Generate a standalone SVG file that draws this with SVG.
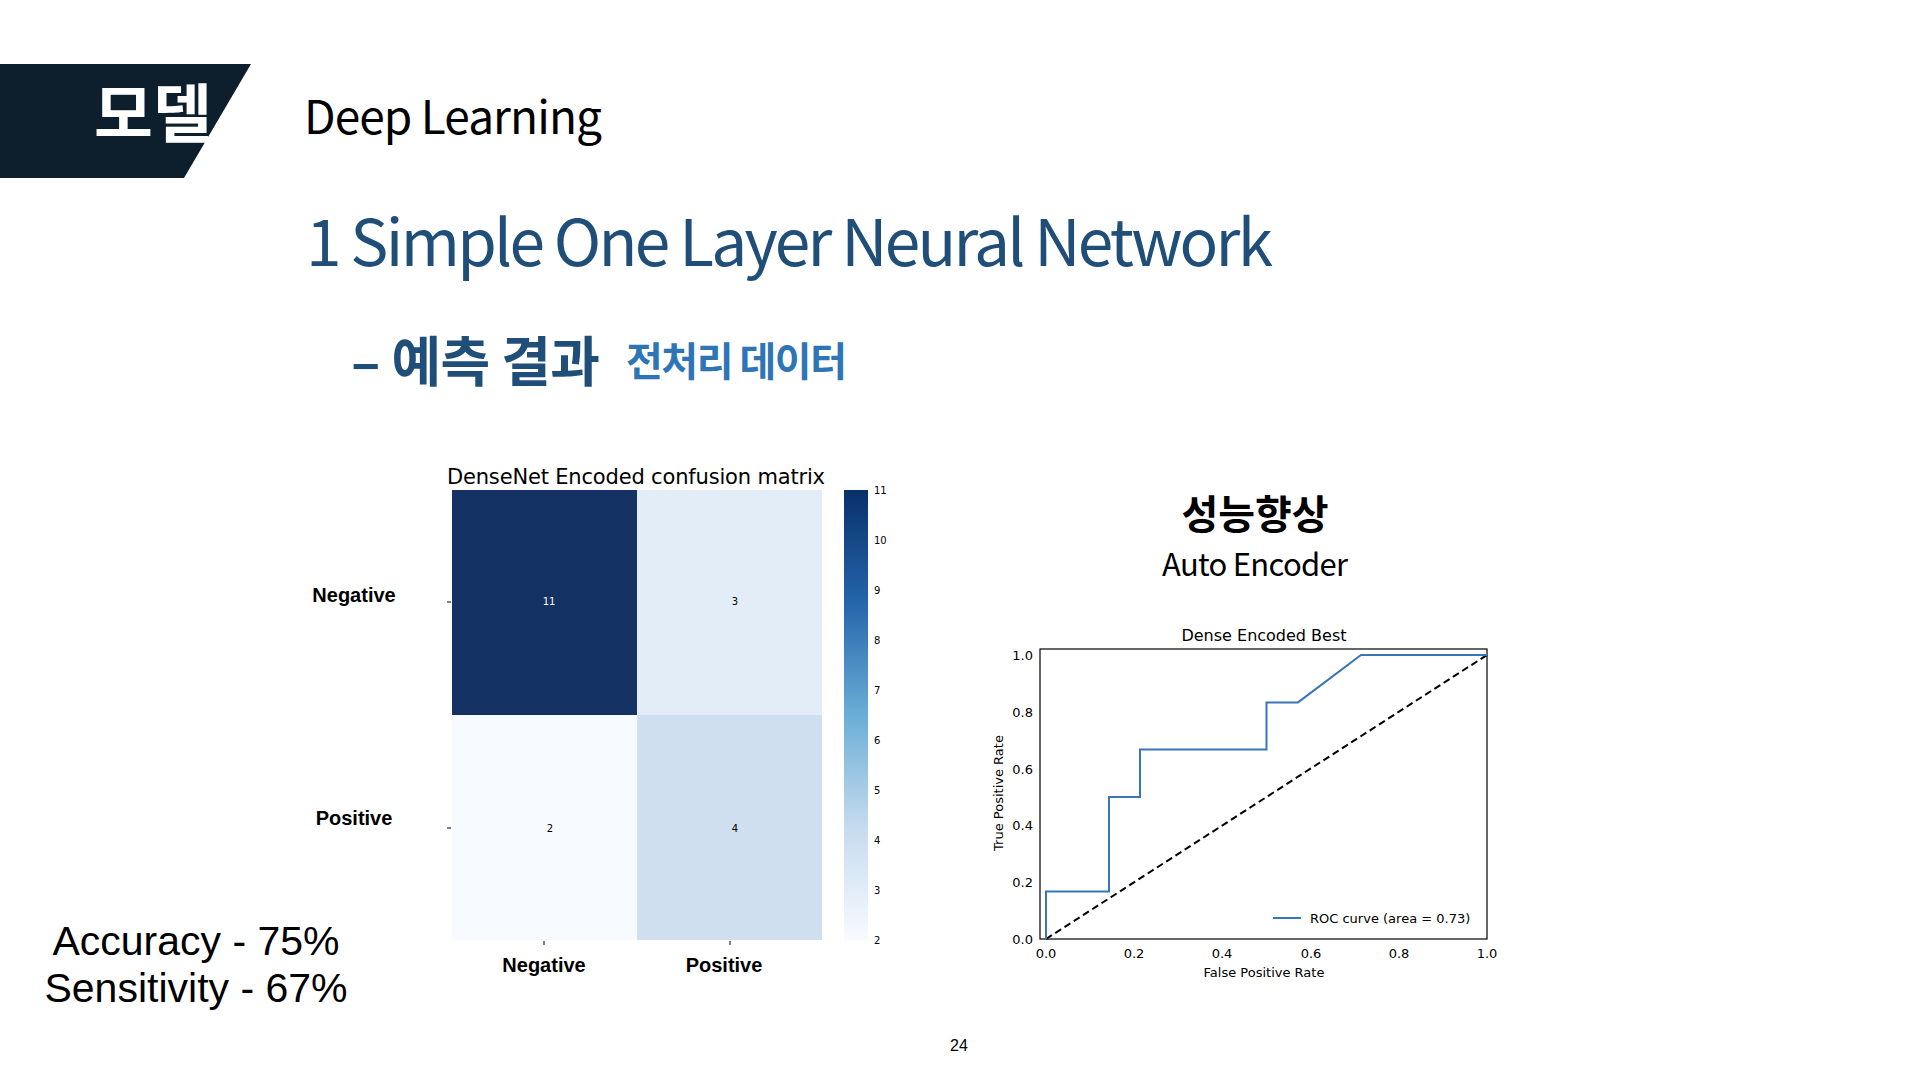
<svg xmlns="http://www.w3.org/2000/svg" width="1920" height="1080" viewBox="0 0 1920 1080">
<style>
.k{font-family:"Noto Sans CJK KR","Noto Sans",sans-serif}
.d{font-family:"DejaVu Sans",sans-serif;fill:#000}
.a{font-family:"Liberation Sans",Arial,sans-serif}
.t{stroke:#000;stroke-width:1}
</style>
<defs>
<linearGradient id="cb" x1="0" y1="0" x2="0" y2="1">
<stop offset="0" stop-color="#08306b"/><stop offset="0.25" stop-color="#2565ab"/><stop offset="0.5" stop-color="#6aaed6"/><stop offset="0.75" stop-color="#c6dbef"/><stop offset="1" stop-color="#f7fbff"/>
</linearGradient>
</defs>
<rect width="1920" height="1080" fill="#fff"/>
<g id="header">
<polygon points="0,64 251,64 184,178 0,178" fill="#0d1f2d"/>
<text x="153" y="137" class="k" font-size="64" font-weight="bold" fill="#fff" text-anchor="middle">모델</text>
<text x="304" y="134" class="k" font-size="46" fill="#000" textLength="298">Deep Learning</text>
<text x="306" y="266" class="k" font-size="64" fill="#1f4e79" textLength="967">1 Simple One Layer Neural Network</text>
<text x="351" y="382" class="k" font-size="54" font-weight="bold" fill="#1f4e79" textLength="249">– 예측 결과</text>
<text x="626" y="376" class="k" font-size="40" font-weight="bold" fill="#2e75b6" textLength="221">전처리 데이터</text>
</g>
<g id="confusion">
<text x="636" y="484" class="d" font-size="21" text-anchor="middle" textLength="378">DenseNet Encoded confusion matrix</text>
<rect x="452" y="490" width="185" height="225" fill="#153264"/>
<rect x="637" y="490" width="185" height="225" fill="#e3edf8"/>
<rect x="452" y="715" width="185" height="225" fill="#f7fbff"/>
<rect x="637" y="715" width="185" height="225" fill="#d0dff0"/>
<g class="d" font-size="10" text-anchor="middle">
<text x="549" y="605" style="fill:#fff">11</text>
<text x="735" y="605">3</text>
<text x="550" y="832">2</text>
<text x="735" y="832">4</text>
</g>
<line x1="447" y1="602" x2="451" y2="602" class="t"/>
<line x1="447" y1="828" x2="451" y2="828" class="t"/>
<line x1="544" y1="941" x2="544" y2="945" class="t"/>
<line x1="730" y1="941" x2="730" y2="945" class="t"/>
<g class="a" font-size="20" font-weight="bold" text-anchor="middle">
<text x="354" y="602">Negative</text>
<text x="354" y="825">Positive</text>
<text x="544" y="972">Negative</text>
<text x="724" y="972">Positive</text>
</g>
<rect x="844" y="490" width="24" height="450" fill="url(#cb)"/>
<g class="d" font-size="10">
<text x="874" y="494">11</text><text x="874" y="544">10</text><text x="874" y="594">9</text><text x="874" y="644">8</text><text x="874" y="694">7</text><text x="874" y="744">6</text><text x="874" y="794">5</text><text x="874" y="844">4</text><text x="874" y="894">3</text><text x="874" y="944">2</text>
</g>
</g>
<g id="roc">
<text x="1255" y="529" class="k" font-size="40" font-weight="bold" text-anchor="middle">성능향상</text>
<text x="1255" y="576" class="k" font-size="31" text-anchor="middle" textLength="186">Auto Encoder</text>
<text x="1264" y="641" class="d" font-size="16" text-anchor="middle">Dense Encoded Best</text>
<rect x="1040" y="649" width="447" height="290" fill="none" stroke="#000" stroke-width="1.2"/>
<line x1="1046" y1="939" x2="1487" y2="655" stroke="#000" stroke-width="2" stroke-dasharray="7,4"/>
<polyline points="1046,939 1046,891.6 1109,891.6 1109,797 1140,797 1140,749.6 1266.5,749.6 1266.5,702.4 1298,702.4 1361,655 1487,655" fill="none" stroke="#3a75b8" stroke-width="2"/>
<g class="d" font-size="13" text-anchor="middle">
<text x="1046" y="958">0.0</text><text x="1134" y="958">0.2</text><text x="1222" y="958">0.4</text><text x="1311" y="958">0.6</text><text x="1399" y="958">0.8</text><text x="1487" y="958">1.0</text>
<text x="1264" y="977">False Positive Rate</text>
</g>
<g class="d" font-size="13" text-anchor="end">
<text x="1033" y="944">0.0</text><text x="1033" y="887">0.2</text><text x="1033" y="830">0.4</text><text x="1033" y="774">0.6</text><text x="1033" y="717">0.8</text><text x="1033" y="660">1.0</text>
</g>
<text transform="translate(1003,793) rotate(-90)" class="d" font-size="13" text-anchor="middle">True Positive Rate</text>
<line x1="1273" y1="918" x2="1301" y2="918" stroke="#3a75b8" stroke-width="2"/>
<text x="1310" y="923" class="d" font-size="13">ROC curve (area = 0.73)</text>
</g>
<g id="metrics" class="a" font-size="41" text-anchor="middle">
<text x="196" y="955">Accuracy - 75%</text>
<text x="196" y="1002">Sensitivity - 67%</text>
</g>
<text x="959" y="1051" class="a" font-size="16" text-anchor="middle">24</text>
</svg>
